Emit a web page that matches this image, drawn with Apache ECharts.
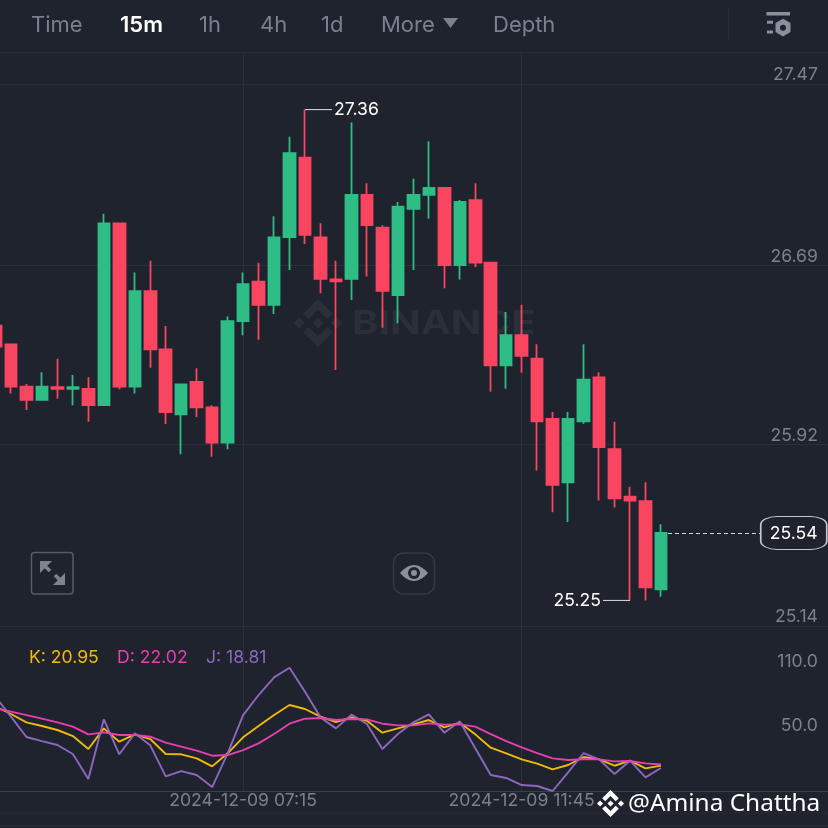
<!DOCTYPE html>
<html>
<head>
<meta charset="utf-8">
<style>
  html, body { margin: 0; padding: 0; background: #1e232d; }
  #kline { width: 828px; height: 828px; }
</style>
<script src="https://cdn.jsdelivr.net/npm/echarts@6/dist/echarts.min.js"></script>
</head>
<body>
<div id="kline"></div>
<script>
// 15m candles, 2024-12-09
var categories = [
  '2024-12-09 03:15','2024-12-09 03:30','2024-12-09 03:45','2024-12-09 04:00','2024-12-09 04:15',
  '2024-12-09 04:30','2024-12-09 04:45','2024-12-09 05:00','2024-12-09 05:15','2024-12-09 05:30',
  '2024-12-09 05:45','2024-12-09 06:00','2024-12-09 06:15','2024-12-09 06:30','2024-12-09 06:45',
  '2024-12-09 07:00','2024-12-09 07:15','2024-12-09 07:30','2024-12-09 07:45','2024-12-09 08:00',
  '2024-12-09 08:15','2024-12-09 08:30','2024-12-09 08:45','2024-12-09 09:00','2024-12-09 09:15',
  '2024-12-09 09:30','2024-12-09 09:45','2024-12-09 10:00','2024-12-09 10:15','2024-12-09 10:30',
  '2024-12-09 10:45','2024-12-09 11:00','2024-12-09 11:15','2024-12-09 11:30','2024-12-09 11:45',
  '2024-12-09 12:00','2024-12-09 12:15','2024-12-09 12:30','2024-12-09 12:45','2024-12-09 13:00',
  '2024-12-09 13:15','2024-12-09 13:30','2024-12-09 13:45','2024-12-09 14:00','2024-12-09 14:15',
  '2024-12-09 14:30','2024-12-09 14:45','2024-12-09 15:00','2024-12-09 15:15','2024-12-09 15:30',
  '2024-12-09 15:45','2024-12-09 16:00','2024-12-09 16:15','2024-12-09 16:30','2024-12-09 16:45'
];

var opens = [26.431,26.351,26.169,26.112,26.167,26.159,26.159,26.090,26.871,26.169,26.580,26.329,26.050,26.189,26.080,25.928,26.451,26.620,26.521,26.812,27.153,26.811,26.630,26.632,26.993,26.852,26.562,26.933,26.993,27.023,26.692,26.971,26.702,26.261,26.390,26.289,26.030,25.758,26.020,26.209,25.900,25.696,25.677,25.298];
var closes = [26.341,26.169,26.112,26.169,26.159,26.167,26.090,26.871,26.169,26.580,26.329,26.060,26.179,26.080,25.928,26.450,26.610,26.521,26.811,27.173,26.822,26.632,26.622,26.993,26.863,26.581,26.943,26.993,27.023,26.692,26.963,26.702,26.261,26.390,26.301,26.020,25.747,26.030,26.199,25.909,25.689,25.679,25.306,25.540];
var lows = [26.341,26.140,26.069,26.112,26.117,26.089,26.018,26.090,26.158,26.140,26.250,26.008,25.878,26.038,25.868,25.900,26.390,26.371,26.481,26.670,26.782,26.570,26.240,26.541,26.642,26.422,26.441,26.670,26.891,26.592,26.630,26.682,26.147,26.160,26.229,25.808,25.629,25.587,26.010,25.679,25.649,25.250,25.250,25.266];
var highs = [26.431,26.351,26.180,26.231,26.289,26.219,26.209,26.912,26.871,26.660,26.710,26.430,26.179,26.248,26.089,26.471,26.660,26.702,26.901,27.243,27.360,26.871,26.710,27.304,27.043,26.863,26.963,27.063,27.224,27.023,26.971,27.043,26.702,26.490,26.521,26.351,26.060,26.060,26.351,26.231,26.018,25.739,25.758,25.577];

var kValues = [76.25,69.4,61.6,58.1,54.4,48.75,36.6,55.9,43.4,50.3,45.9,31.9,31.6,27.8,20.3,32.5,47.5,58.1,68.4,77.8,74.1,66.9,61.9,66.25,63.1,51.9,55.9,59.7,63.75,56.9,61.25,50.3,37.8,32.5,26.9,22.8,17.5,21.6,29.1,26.9,20.9,25.6,18.4,20.95];
var dValues = [74.7,71.6,68.4,65,61.6,57.5,50.3,52.2,49.7,49.7,48.1,42.5,38.75,35,30.3,30.9,35.6,41.9,50.6,60.3,65,65.6,63.75,64.7,64.4,60.3,58.75,58.75,60.6,59.4,59.7,57.5,50.6,44,38.1,32.8,27.8,26.25,26.9,26.9,25,25.3,23.1,22.02];
var jValues = [85.6,66.9,47.8,44,40.3,31.9,8.4,64.4,31.6,51.25,40,10.9,15.9,12.2,0.9,32.5,68.4,87.2,103.75,112.8,90.3,66.25,55.9,68.75,60,36.6,50.6,61.6,69,51.9,62.5,37.2,12.2,9.4,2.8,1.9,-2.8,14.7,32.8,26.9,13.1,25.6,10,18.81];

var priceTicks = [25.14, 25.92, 26.69, 27.47];
var kdjTicks = [50, 110];
var timeTickIdx = [16, 34];
var highIdx = 20, lowIdx = 41, lastIdx = 43;

var tabLabels = ['Time', '15m', '1h', '4h', '1d', 'More', 'Depth'];
var tabX = [31, 120, 199, 260, 321, 381, 493];

var bg = '#1e232d';
var lineColor = '#2a2f39';
var gray = '#7b818c';
var green = '#2ebd85';
var red = '#fa4561';
var kColor = '#f0b90b';
var dColor = '#e83fb0';
var jColor = '#8d67c0';
var font = 'Inter';
var smallSize = 17.6;

// shapes for the graphic component
echarts.graphic.registerShape('binanceLogo', echarts.graphic.extendPath('M38.73 53.2l24.59-24.58 24.6 24.6 14.3-14.31L63.32 0 24.43 38.88 38.73 53.2z M0 63.31l14.3-14.31 14.31 14.31-14.31 14.3z M38.73 73.41l24.59 24.59 24.6-24.6 14.31 14.29-38.9 38.91-38.91-38.88-.02-.03z M98.28 63.31l14.3-14.3 14.31 14.3-14.31 14.3z M77.83 63.3L63.32 48.78 52.59 59.51l-1.24 1.23-2.54 2.54 14.51 14.5 14.51-14.47z', {}));
echarts.graphic.registerShape('eyeLens', echarts.graphic.extendPath('M400 573 Q414 557 428 573 Q414 589 400 573 Z', {}));

var candles = opens.map(function (o, i) {
  return [o, closes[i], lows[i], highs[i]];
});

var myChart = echarts.init(document.getElementById('kline'), null, { renderer: 'canvas' });

// header tabs, buttons, watermark: everything that is not on an axis
var graphics = [];
tabLabels.forEach(function (t, i) {
  graphics.push({
    type: 'text', x: tabX[i], y: 25,
    style: {
      text: t, fill: t == '15m' ? '#ffffff' : gray,
      font: (t == '15m' ? '600 ' : '400 ') + '22px ' + font, textVerticalAlign: 'middle'
    }
  });
});
graphics.push(
  { type: 'polygon', shape: { points: [[443, 18], [458, 18], [450.5, 28]] }, style: { fill: gray } },
  { type: 'line', shape: { x1: 728.5, y1: 8, x2: 728.5, y2: 40 }, style: { stroke: lineColor, lineWidth: 1 } },
  // settings icon
  { type: 'rect', shape: { x: 766.5, y: 12, width: 23.5, height: 3.5 }, style: { fill: '#8a919d' } },
  { type: 'rect', shape: { x: 767, y: 20.7, width: 6, height: 3 }, style: { fill: '#8a919d' } },
  { type: 'rect', shape: { x: 767, y: 30.5, width: 6, height: 3 }, style: { fill: '#8a919d' } },
  { type: 'polygon', shape: { points: [[783, 18.7], [790.5, 23], [790.5, 32], [783, 36.5], [775.5, 32], [775.5, 23]] }, style: { fill: '#8a919d' } },
  { type: 'circle', shape: { cx: 783, cy: 27.7, r: 3 }, style: { fill: bg } },
  // separators under the time labels
  { type: 'line', shape: { x1: 0, y1: 813, x2: 828, y2: 813 }, style: { stroke: '#252a34', lineWidth: 1 } },
  { type: 'line', shape: { x1: 0, y1: 826, x2: 828, y2: 826 }, style: { stroke: '#323741', lineWidth: 1 } },
  // expand button
  { type: 'rect', shape: { x: 31.5, y: 552.5, width: 41.5, height: 41.5, r: 3 }, style: { fill: bg, stroke: '#565c67', lineWidth: 1.5 } },
  { type: 'polygon', shape: { points: [[40, 561], [52, 561], [40, 573]] }, style: { fill: '#7d8490' } },
  { type: 'line', shape: { x1: 44, y1: 565, x2: 50, y2: 571 }, style: { stroke: '#7d8490', lineWidth: 3.5 } },
  { type: 'polygon', shape: { points: [[65, 585], [53, 585], [65, 573]] }, style: { fill: '#7d8490' } },
  { type: 'line', shape: { x1: 61, y1: 581, x2: 55, y2: 575 }, style: { stroke: '#7d8490', lineWidth: 3.5 } },
  // eye button
  { type: 'rect', shape: { x: 393.5, y: 553, width: 41, height: 41, r: 10 }, style: { fill: bg, stroke: '#343943', lineWidth: 1.5 } },
  { type: 'eyeLens', style: { fill: '#8a919d' } },
  { type: 'circle', shape: { cx: 414, cy: 573, r: 6 }, style: { fill: bg } },
  { type: 'circle', shape: { cx: 414, cy: 573, r: 3 }, style: { fill: '#8a919d' } },
  // chart watermark
  { type: 'binanceLogo', z: -1, x: 294, y: 299, scaleX: 48 / 126.61, scaleY: 48 / 126.61, style: { fill: '#2a2f39' } },
  { type: 'text', z: -1, x: 352, y: 324, scaleX: 1.22, style: { text: 'BINANCE', fill: '#2a2f39', font: '700 33px ' + font, textVerticalAlign: 'middle' } },
  // kdj legend
  { type: 'text', x: 29, y: 658, style: { text: 'K: ' + kValues[lastIdx].toFixed(2), fill: kColor, font: '400 ' + smallSize + 'px ' + font, textVerticalAlign: 'middle' } },
  { type: 'text', x: 117, y: 658, style: { text: 'D: ' + dValues[lastIdx].toFixed(2), fill: dColor, font: '400 ' + smallSize + 'px ' + font, textVerticalAlign: 'middle' } },
  { type: 'text', x: 206, y: 658, style: { text: 'J: ' + jValues[lastIdx].toFixed(2), fill: jColor, font: '400 ' + smallSize + 'px ' + font, textVerticalAlign: 'middle' } },
  // author tag
  { type: 'binanceLogo', z: 20, x: 597, y: 790, scaleX: 27 / 126.61, scaleY: 27 / 126.61, style: { fill: '#ffffff' } },
  { type: 'text', z: 20, x: 628, y: 804, style: { text: '@Amina Chattha', fill: '#ffffff', font: '400 24.4px "Noto Sans"', textVerticalAlign: 'middle' } }
);

var vLines = timeTickIdx.map(function (i) {
  return { xAxis: categories[i] };
});

function extremeMark(idx, value, dir) {
  return {
    coord: [categories[idx], value],
    value: value.toFixed(2),
    symbol: 'rect',
    symbolSize: [27, 1],
    symbolOffset: [dir * 13.5, 0],
    itemStyle: { color: '#dfe2e6' },
    label: {
      show: true, position: dir > 0 ? 'right' : 'left', distance: 2,
      color: '#ffffff', fontSize: smallSize, fontFamily: font
    }
  };
}

var option = {
  backgroundColor: bg,
  animation: false,
  graphic: { elements: graphics },
  grid: [
    { left: -12.24, width: 851.18, top: 52, height: 574, outerBoundsMode: 'none' },
    { left: -12.24, width: 851.18, top: 626, height: 165, outerBoundsMode: 'none' }
  ],
  xAxis: [
    {
      type: 'category', gridIndex: 0, data: categories, position: 'top',
      axisLine: { show: true, onZero: false, lineStyle: { color: lineColor } },
      axisTick: { show: false }, axisLabel: { show: false }, splitLine: { show: false }
    },
    {
      type: 'category', gridIndex: 1, data: categories,
      axisLine: { show: true, onZero: false, lineStyle: { color: '#3a3f49' } },
      axisTick: { show: false }, splitLine: { show: false },
      axisLabel: {
        color: gray, fontSize: smallSize, fontFamily: font, margin: 1, hideOverlap: false,
        interval: function (i) { return timeTickIdx.indexOf(i) > -1; }
      }
    }
  ],
  yAxis: [
    {
      type: 'value', gridIndex: 0, position: 'right', min: 25.14, max: 27.6076,
      axisLine: { show: false },
      axisTick: { show: false, customValues: priceTicks },
      splitLine: { show: true, lineStyle: { color: lineColor } },
      axisLabel: {
        inside: true, margin: 21, color: gray, fontSize: smallSize, fontFamily: font,
        verticalAlign: 'bottom', customValues: priceTicks,
        formatter: function (v) { return v.toFixed(2); }
      }
    },
    {
      type: 'value', gridIndex: 1, position: 'right', min: -2.8, max: 151.9,
      axisLine: { show: false },
      axisTick: { show: false, customValues: kdjTicks },
      splitLine: { show: false },
      axisLabel: {
        inside: true, margin: 21, color: gray, fontSize: smallSize, fontFamily: font,
        verticalAlign: 'bottom', customValues: kdjTicks,
        formatter: function (v) { return v.toFixed(1); }
      }
    }
  ],
  series: [
    {
      name: 'KLine', type: 'candlestick', xAxisIndex: 0, yAxisIndex: 0,
      data: candles, barWidth: 12,
      itemStyle: { color: green, color0: red, borderColor: green, borderColor0: red, borderWidth: 1.8 },
      markLine: {
        silent: true, symbol: 'none', z: 1, animation: false,
        label: { show: false },
        data: vLines.map(function (d) {
          return Object.assign({ lineStyle: { color: lineColor, width: 1, type: 'solid' } }, d);
        }).concat([[
          { coord: [categories[lastIdx], closes[lastIdx]], lineStyle: { color: '#d5d8dd', width: 1, type: [4, 3] } },
          { coord: [categories[lastIdx + 7], closes[lastIdx]] }
        ]])
      },
      markPoint: {
        silent: true, animation: false,
        data: [
          extremeMark(highIdx, highs[highIdx], 1),
          extremeMark(lowIdx, lows[lowIdx], -1),
          {
            coord: [categories[lastIdx + 9], closes[lastIdx]],
            value: closes[lastIdx].toFixed(2),
            symbol: 'roundRect', symbolSize: [66, 33], symbolOffset: [-6.5, 0],
            itemStyle: { color: bg, borderColor: '#c4c7cc', borderWidth: 1.2 },
            label: { show: true, position: 'inside', offset: [0, 1], color: '#ffffff', fontSize: smallSize, fontFamily: font }
          }
        ]
      }
    },
    {
      name: 'K', type: 'line', xAxisIndex: 1, yAxisIndex: 1, data: kValues,
      symbol: 'none', lineStyle: { color: kColor, width: 1.9 }, z: 3,
      markLine: {
        silent: true, symbol: 'none', z: 1, animation: false, label: { show: false },
        lineStyle: { color: lineColor, width: 1, type: 'solid' }, data: vLines
      }
    },
    {
      name: 'D', type: 'line', xAxisIndex: 1, yAxisIndex: 1, data: dValues,
      symbol: 'none', lineStyle: { color: dColor, width: 1.9 }, z: 4
    },
    {
      name: 'J', type: 'line', xAxisIndex: 1, yAxisIndex: 1, data: jValues,
      symbol: 'none', lineStyle: { color: jColor, width: 1.9 }, z: 3
    }
  ]
};
myChart.setOption(option, true);
</script>
</body>
</html>
